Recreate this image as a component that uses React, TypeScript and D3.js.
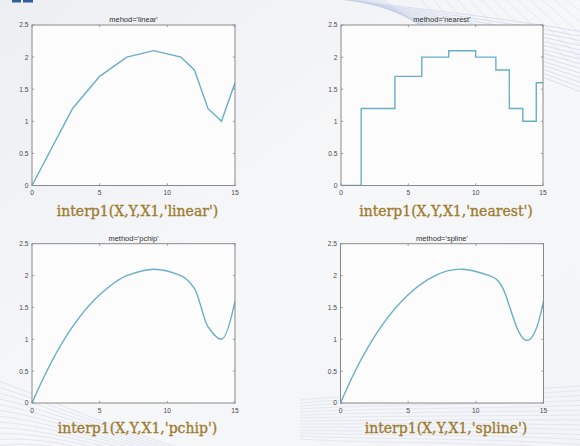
import React from "react";
import * as d3 from "d3";

// ---- data ----
const X = [0, 3, 5, 7, 9, 11, 12, 13, 14, 15];
const Y = [0, 1.2, 1.7, 2.0, 2.1, 2.0, 1.8, 1.2, 1.0, 1.6];
const xTicks = [0, 5, 10, 15];
const yTicks = [0, 0.5, 1, 1.5, 2, 2.5];
const methods = ["linear", "nearest", "pchip", "spline"];
const titles = ["mehod='linear'", "method='nearest'", "method='pchip'", "method='spline'"];
const captions = [
  "interp1(X,Y,X1,'linear')",
  "interp1(X,Y,X1,'nearest')",
  "interp1(X,Y,X1,'pchip')",
  "interp1(X,Y,X1,'spline')",
];

const W = 580;
const H = 446;

const panels = [
  { x0: 32, x1: 235, y0: 25, y1: 185.5 },
  { x0: 341, x1: 543, y0: 25, y1: 185.5 },
  { x0: 32, x1: 235, y0: 243.7, y1: 403 },
  { x0: 340.5, x1: 543.5, y0: 243.7, y1: 403 },
];

function pchipSlopes(x: number[], y: number[]) {
  const n = x.length;
  const h = d3.range(n - 1).map((i) => x[i + 1] - x[i]);
  const del = d3.range(n - 1).map((i) => (y[i + 1] - y[i]) / h[i]);
  const d = new Array(n).fill(0);
  for (let k = 1; k < n - 1; k++) {
    if (Math.sign(del[k - 1]) * Math.sign(del[k]) > 0) {
      const w1 = 2 * h[k] + h[k - 1];
      const w2 = h[k] + 2 * h[k - 1];
      d[k] = (w1 + w2) / (w1 / del[k - 1] + w2 / del[k]);
    }
  }
  const endSlope = (h0: number, h1: number, d0: number, d1: number) => {
    let s = ((2 * h0 + h1) * d0 - h0 * d1) / (h0 + h1);
    if (Math.sign(s) !== Math.sign(d0)) s = 0;
    else if (Math.sign(d0) !== Math.sign(d1) && Math.abs(s) > Math.abs(3 * d0)) s = 3 * d0;
    return s;
  };
  d[0] = endSlope(h[0], h[1], del[0], del[1]);
  d[n - 1] = endSlope(h[n - 2], h[n - 3], del[n - 2], del[n - 3]);
  return d;
}

function splineSlopes(x: number[], y: number[]) {
  const n = x.length;
  const dx = d3.range(n - 1).map((i) => x[i + 1] - x[i]);
  const dd = d3.range(n - 1).map((i) => (y[i + 1] - y[i]) / dx[i]);
  const A: number[][] = d3.range(n).map(() => new Array(n).fill(0));
  const b = new Array(n).fill(0);
  const x31 = x[2] - x[0];
  A[0][0] = dx[1];
  A[0][1] = x31;
  b[0] = ((dx[0] + 2 * x31) * dx[1] * dd[0] + dx[0] * dx[0] * dd[1]) / x31;
  for (let i = 1; i < n - 1; i++) {
    A[i][i - 1] = dx[i];
    A[i][i] = 2 * (dx[i - 1] + dx[i]);
    A[i][i + 1] = dx[i - 1];
    b[i] = 3 * (dx[i] * dd[i - 1] + dx[i - 1] * dd[i]);
  }
  const xn = x[n - 1] - x[n - 3];
  A[n - 1][n - 2] = xn;
  A[n - 1][n - 1] = dx[n - 3];
  b[n - 1] =
    (dx[n - 2] * dx[n - 2] * dd[n - 3] + (2 * xn + dx[n - 2]) * dx[n - 3] * dd[n - 2]) / xn;
  for (let c = 0; c < n; c++) {
    let p = c;
    for (let r = c + 1; r < n; r++) if (Math.abs(A[r][c]) > Math.abs(A[p][c])) p = r;
    [A[c], A[p]] = [A[p], A[c]];
    [b[c], b[p]] = [b[p], b[c]];
    for (let r = c + 1; r < n; r++) {
      const f = A[r][c] / A[c][c];
      if (f === 0) continue;
      for (let k = c; k < n; k++) A[r][k] -= f * A[c][k];
      b[r] -= f * b[c];
    }
  }
  const s = new Array(n).fill(0);
  for (let r = n - 1; r >= 0; r--) {
    let acc = b[r];
    for (let k = r + 1; k < n; k++) acc -= A[r][k] * s[k];
    s[r] = acc / A[r][r];
  }
  return s;
}

function hermitePath(
  xs: number[],
  ys: number[],
  ds: number[],
  sx: d3.ScaleLinear<number, number>,
  sy: d3.ScaleLinear<number, number>
) {
  const p = d3.path();
  p.moveTo(sx(xs[0]), sy(ys[0]));
  for (let i = 0; i < xs.length - 1; i++) {
    const h = xs[i + 1] - xs[i];
    p.bezierCurveTo(
      sx(xs[i] + h / 3),
      sy(ys[i] + (ds[i] * h) / 3),
      sx(xs[i + 1] - h / 3),
      sy(ys[i + 1] - (ds[i + 1] * h) / 3),
      sx(xs[i + 1]),
      sy(ys[i + 1])
    );
  }
  return p.toString();
}

const LINE = "#66afc6";
const AXIS = "#8a8a8a";
const TICKTXT = "#4a4a4a";
const CAPTION = "#9e7a2c";

function Panel({ idx }: { idx: number }) {
  const pn = panels[idx];
  const sx = d3.scaleLinear().domain([0, 15]).range([pn.x0, pn.x1]);
  const sy = d3.scaleLinear().domain([0, 2.5]).range([pn.y1, pn.y0]);
  const method = methods[idx];
  const pts = X.map((x, i) => [x, Y[i]] as [number, number]);
  let d = "";
  if (method === "linear") {
    d = d3.line().x((p) => sx(p[0])).y((p) => sy(p[1])).curve(d3.curveLinear)(pts) || "";
  } else if (method === "nearest") {
    d = d3.line().x((p) => sx(p[0])).y((p) => sy(p[1])).curve(d3.curveStep)(pts) || "";
  } else if (method === "pchip") {
    d = hermitePath(X, Y, pchipSlopes(X, Y), sx, sy);
  } else {
    d = hermitePath(X, Y, splineSlopes(X, Y), sx, sy);
  }
  const cx = (pn.x0 + pn.x1) / 2;
  const tl = 2.2;
  return (
    <g>
      <defs>
        <clipPath id={`clip${idx}`}>
          <rect x={pn.x0} y={pn.y0} width={pn.x1 - pn.x0} height={pn.y1 - pn.y0} />
        </clipPath>
      </defs>
      <rect x={pn.x0} y={pn.y0} width={pn.x1 - pn.x0} height={pn.y1 - pn.y0} fill="#fcfcfd" />
      {xTicks.map((t) => (
        <g key={"x" + t}>
          <line x1={sx(t)} x2={sx(t)} y1={pn.y1} y2={pn.y1 - tl} stroke={AXIS} strokeWidth={0.8} />
          <line x1={sx(t)} x2={sx(t)} y1={pn.y0} y2={pn.y0 + tl} stroke={AXIS} strokeWidth={0.8} />
          <text x={sx(t)} y={pn.y1 + 9.5} fontSize={6.7} fill={TICKTXT} textAnchor="middle"
            fontFamily="Liberation Sans, Arial, sans-serif">{t}</text>
        </g>
      ))}
      {yTicks.map((t) => (
        <g key={"y" + t}>
          <line x1={pn.x0} x2={pn.x0 + tl} y1={sy(t)} y2={sy(t)} stroke={AXIS} strokeWidth={0.8} />
          <line x1={pn.x1} x2={pn.x1 - tl} y1={sy(t)} y2={sy(t)} stroke={AXIS} strokeWidth={0.8} />
          <text x={pn.x0 - 3.5} y={sy(t) + 2.4} fontSize={6.7} fill={TICKTXT} textAnchor="end"
            fontFamily="Liberation Sans, Arial, sans-serif">{t}</text>
        </g>
      ))}
      <path d={d} fill="none" stroke={LINE} strokeWidth={1.4} clipPath={`url(#clip${idx})`} />
      <rect x={pn.x0} y={pn.y0} width={pn.x1 - pn.x0} height={pn.y1 - pn.y0} fill="none"
        stroke={AXIS} strokeWidth={1} />
      <text x={cx} y={pn.y0 - 3} fontSize={7.5} fill="#333" textAnchor="middle"
        fontFamily="Liberation Sans, Arial, sans-serif">{titles[idx]}</text>
      <text x={cx + 4} y={pn.y1 + 30} fontSize={14} fill={CAPTION} stroke={CAPTION}
        strokeWidth={0.3} textAnchor="middle"
        fontFamily="DejaVu Serif, serif">{captions[idx]}</text>
    </g>
  );
}

function Decor() {
  const top = d3.range(14).map((i) => {
    const p = d3.path();
    p.moveTo(330 + i * 4, -2);
    p.bezierCurveTo(430, 10 + i * 2.5, 520, 20 + i * 3.5, 600, 35 + i * 5);
    return p.toString();
  });
  const topV = d3.range(16).map((i) => {
    const p = d3.path();
    p.moveTo(420 + i * 12, -2);
    p.lineTo(470 + i * 14, 60);
    return p.toString();
  });
  const bl = d3.range(12).map((i) => {
    const p = d3.path();
    p.moveTo(-5, 380 + i * 6);
    p.bezierCurveTo(40, 395 + i * 4, 90, 420 + i * 3, 180, 448 + i * 2);
    return p.toString();
  });
  const br = d3.range(14).map((i) => {
    const p = d3.path();
    p.moveTo(300, 400 + i * 3);
    p.bezierCurveTo(380, 392 + i * 4, 470, 395 + i * 3.5, 590, 385 + i * 5);
    return p.toString();
  });
  return (
    <g opacity={0.55}>
      {top.map((d, i) => <path key={"t" + i} d={d} fill="none" stroke="#9fb2d8" strokeWidth={0.6} />)}
      {topV.map((d, i) => <path key={"tv" + i} d={d} fill="none" stroke="#b8c6e2" strokeWidth={0.5} />)}
      {bl.map((d, i) => <path key={"b" + i} d={d} fill="none" stroke="#a9bbdc" strokeWidth={0.5} />)}
      {br.map((d, i) => <path key={"r" + i} d={d} fill="none" stroke="#b9c3dc" strokeWidth={0.5} />)}
    </g>
  );
}

export default function App() {
  return (
    <svg width={W} height={H} viewBox={`0 0 ${W} ${H}`}
      style={{ position: "fixed", left: 0, top: 0, display: "block" }}>
      <defs>
        <linearGradient id="bg" x1="0" y1="0" x2="1" y2="1">
          <stop offset="0" stopColor="#eceef2" />
          <stop offset="0.5" stopColor="#f6f7f9" />
          <stop offset="1" stopColor="#f3f4f7" />
        </linearGradient>
      </defs>
      <rect x={0} y={0} width={W} height={H} fill="url(#bg)" />
      <Decor />
      <rect x={12} y={0} width={9} height={2.5} fill="#2f5f9f" />
      <rect x={23} y={0} width={10} height={2.5} fill="#2f5f9f" />
      {panels.map((_, i) => <Panel key={i} idx={i} />)}
    </svg>
  );
}
